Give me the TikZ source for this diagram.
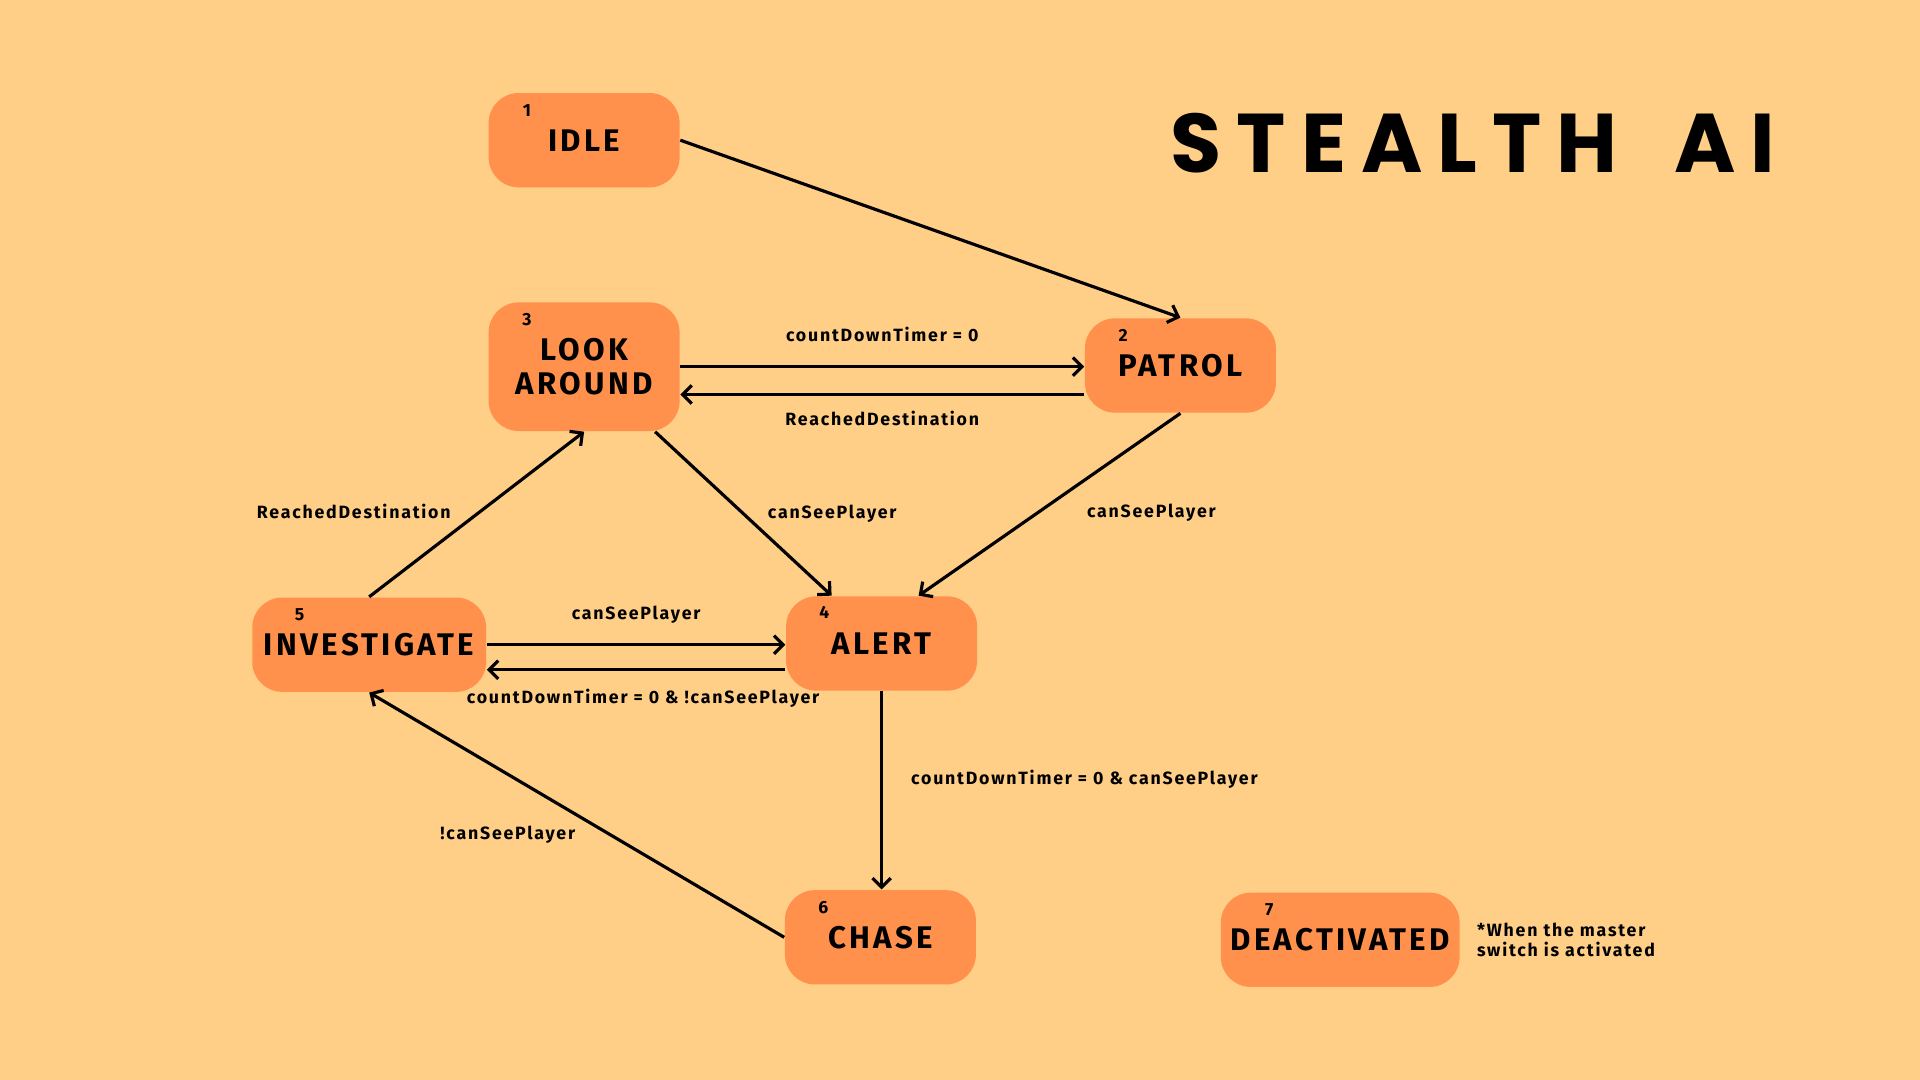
\documentclass[tikz,border=0pt]{standalone}
\usepackage{fontspec}
\setmainfont{Fira Sans}
\newfontfamily\titlefont[LetterSpace=18]{Poppins}
\newfontfamily\boxfont[LetterSpace=10.5]{Fira Sans}
\newfontfamily\labfont[LetterSpace=10]{Fira Sans}
\usetikzlibrary{calc,positioning,arrows.meta}
\definecolor{bgcol}{HTML}{FFCE87}
\definecolor{boxcol}{HTML}{FF914D}

\begin{document}
\begin{tikzpicture}[x=1cm,y=-1cm]
                      \tikzstyle{state}=[rectangle,rounded corners=0.3cm,fill=boxcol,minimum width=1.91cm,minimum height=0.943cm,inner sep=0pt,align=center,font=\boxfont\bfseries\fontsize{8.9}{9.7}\selectfont]
                      \tikzstyle{num}=[inner sep=0pt,font=\boxfont\bfseries\fontsize{5}{6}\selectfont]
                      \tikzstyle{lab}=[inner sep=0pt,text height=3.5pt,text depth=1pt,font=\labfont\bfseries\fontsize{5.05}{5.6}\selectfont]
                      \tikzstyle{note}=[inner sep=0pt,align=left,font=\labfont\bfseries\fontsize{5.05}{5.6}\selectfont]
                      \tikzstyle{arr}=[line width=0.9pt,-{Straight Barb[length=2.6pt,width=5.2pt]}]
                      \fill[bgcol] (0,0) rectangle (19.2,10.8);
                      \node (title) [anchor=west,inner sep=0pt,font=\titlefont\bfseries\fontsize{23.7}{26}\selectfont] at (11.70,1.433) {STEALTH\hspace{0.24cm} AI};
                      \node[state] (idle) at (5.841,1.402) {IDLE};
                      \node[state,minimum height=1.286cm] (look) at (5.841,3.667) {LOOK\\AROUND};
                      \node[state] (patrol) at (11.804,3.655) {PATROL};
                      \node[state] (alert) at (8.816,6.435) {ALERT};
                      \node[state,minimum width=2.339cm] (invest) at (3.692,6.447) {INVESTIGATE};
                      \node[state] (chase) at (8.804,9.373) {CHASE};
                      \node[state,minimum width=2.388cm] (deact) at (13.402,9.398) {DEACTIVATED};
                      \node[num] (n1) at ($(idle.north west)+(0.39,0.18)$) {1};
                      \node[num] (n2) at ($(patrol.north west)+(0.39,0.18)$) {2};
                      \node[num] (n3) at ($(look.north west)+(0.39,0.18)$) {3};
                      \node[num] (n4) at ($(alert.north west)+(0.39,0.17)$) {4};
                      \node[num] (n5) at ($(invest.north west)+(0.48,0.18)$) {5};
                      \node[num] (n6) at ($(chase.north west)+(0.39,0.18)$) {6};
                      \node[num] (n7) at ($(deact.north west)+(0.49,0.18)$) {7};
                      \node[note,right=0.16cm of deact] (swnote) {*When the master\\switch is activated};
                      \coordinate (pl) at ($(patrol.west)+(0,0.29)$);
                      \coordinate (al) at ($(alert.west)+(0,0.263)$);
                      \draw[arr] (idle.east) -- (patrol.north);
                      \draw[arr] (look.east) -- (look.east -| patrol.west) node [lab,midway,above=0.2cm] {countDownTimer = 0};
                      \draw[arr] (pl) -- (pl -| look.east) node [lab,midway,below=0.17cm] {ReachedDestination};
                      \draw[arr] ($(look.south)+(0.71,0)$) -- ($(alert.north)+(-0.50,0)$) node [lab,midway,right=0.23cm] {canSeePlayer};
                      \draw[arr] (patrol.south) -- ($(alert.north)+(0.37,0)$) node [lab,midway,right=0.36cm,yshift=-0.09cm] {canSeePlayer};
                      \draw[arr] (invest.north) -- (look.south) node [lab,midway,left=0.245cm] {ReachedDestination};
                      \draw[arr] (invest.east) -- (invest.east -| alert.west) node [lab,midway,above=0.2cm] {canSeePlayer};
                      \draw[arr] (al) -- (al -| invest.east) node [lab,midway,below=0.2cm,xshift=0.07cm] {countDownTimer = 0 \& !canSeePlayer};
                      \draw[arr] (alert.south) -- (alert.south |- chase.north) node [lab,midway,right=0.28cm,yshift=0.1cm] {countDownTimer = 0 \& canSeePlayer};
                      \draw[arr] (chase.west) -- (invest.south) node [lab,midway,anchor=north east,yshift=-0.11cm] {!canSeePlayer};
                  \end{tikzpicture}
\end{document}
